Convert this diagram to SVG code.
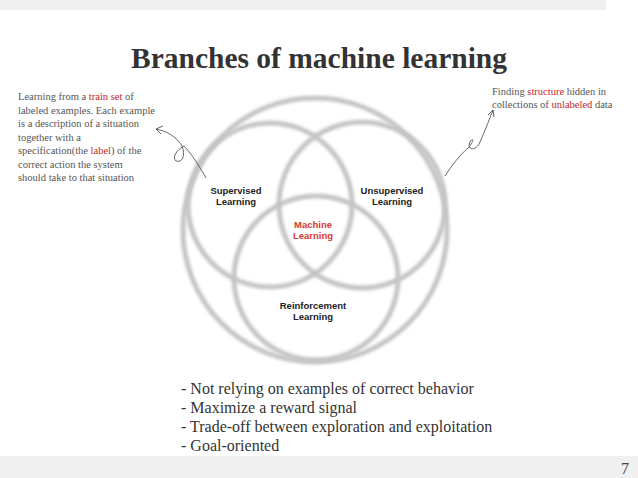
<svg xmlns="http://www.w3.org/2000/svg" width="638" height="478" viewBox="0 0 638 478">
<style>
.s{font-family:"Liberation Serif",serif;fill:#555;font-size:10.5px}
.r{fill:#c0262c}
.n{font-family:"Liberation Sans",Arial,sans-serif;font-weight:bold;font-size:9.5px;fill:#222;text-anchor:middle}
.c{fill:none;stroke:#c4c4c4;stroke-width:5;filter:url(#b)}
.b{font-family:"Liberation Serif",serif;fill:#333;font-size:16px}
.a{fill:none;stroke:#555;stroke-width:0.9}
</style>
<defs><filter id="b" x="-10%" y="-10%" width="120%" height="120%"><feGaussianBlur stdDeviation="1.5"/></filter></defs>
<rect width="638" height="478" fill="#fff"/>
<rect x="0" y="0" width="606" height="10" fill="#f0f0f0"/>
<rect x="0" y="456" width="638" height="22" fill="#f0f0f0"/>
<text x="625" y="474" font-family="Liberation Serif,serif" font-size="16" fill="#444" text-anchor="middle">7</text>
<text x="319" y="68" font-family="Liberation Serif,serif" font-size="30" font-weight="bold" fill="#333" text-anchor="middle" textLength="376" lengthAdjust="spacingAndGlyphs">Branches of machine learning</text>
<g id="venn">
<circle class="c" cx="315" cy="230" r="132"/>
<circle class="c" cx="270" cy="205" r="82"/>
<circle class="c" cx="362" cy="205" r="83"/>
<circle class="c" cx="316" cy="278" r="82"/>
</g>
<g id="supervised"><text class="n" x="236" y="194">Supervised</text><text class="n" x="236" y="205">Learning</text></g>
<g id="unsupervised"><text class="n" x="392" y="194">Unsupervised</text><text class="n" x="392" y="205">Learning</text></g>
<g id="ml"><text class="n" x="313" y="228" style="fill:#d93a2f">Machine</text><text class="n" x="313" y="239" style="fill:#d93a2f">Learning</text></g>
<g id="reinforcement"><text class="n" x="313" y="309">Reinforcement</text><text class="n" x="313" y="320">Learning</text></g>
<g id="left-text" class="s">
<text x="18" y="100">Learning from a <tspan class="r">train set</tspan> of</text>
<text x="18" y="113.5">labeled examples. Each example</text>
<text x="18" y="127">is a description of a situation</text>
<text x="18" y="140.5">together with a</text>
<text x="18" y="154">specification(the <tspan class="r">label</tspan>) of the</text>
<text x="18" y="167.5">correct action the system</text>
<text x="18" y="181">should take to that situation</text>
</g>
<g id="right-text" class="s">
<text x="492" y="95">Finding <tspan class="r">structure</tspan> hidden in</text>
<text x="492" y="108">collections of <tspan class="r">unlabeled</tspan> data</text>
</g>
<g id="connectors">
<path class="a" d="M206,178 C196,160 188,150 184,146 C176,150 172,158 176,161 C182,163 186,156 182,146 C176,136 166,131 156,129"/>
<path class="a" d="M156,129 L163,126 M156,129 L161,134"/>
<path class="a" d="M445,176 C452,165 460,155 468,148 C474,142 474,136 470,142 C466,150 476,152 480,142 C486,128 490,118 493,110"/>
<path class="a" d="M493,110 L488,115 M493,110 L494,117"/>
</g>
<g id="bullets" class="b" xml:space="preserve">
<text x="181" y="394">- Not relying on examples of correct behavior</text>
<text x="181" y="413">-  Maximize a reward signal</text>
<text x="181" y="432">-  Trade-off between exploration and exploitation</text>
<text x="181" y="451">-  Goal-oriented</text>
</g>
</svg>
